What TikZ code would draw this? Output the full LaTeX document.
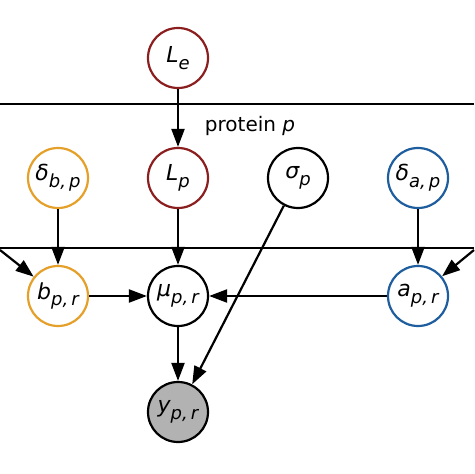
\documentclass[tikz,border=0pt]{standalone}
\usepackage{fontspec}
\setmainfont{DejaVu Sans}
\usetikzlibrary{arrows.meta}

\definecolor{lred}{HTML}{8B1E1E}
\definecolor{borange}{HTML}{E5A02A}
\definecolor{ablue}{HTML}{1F5E9E}

\newcommand{\pgmlab}[2]{{\itshape #1\raisebox{-0.55ex}{\small #2}}}

\begin{document}
\begin{tikzpicture}[x=0.5pt,y=-0.5pt,
	var/.style={circle,draw,line width=1.1pt,minimum size=30pt,inner sep=0pt,fill=white,font=\fontsize{11}{13}\selectfont},
	obs/.style={var,fill=black!30},
	conn/.style={line width=1.1pt,-{Triangle[length=9pt,width=6.5pt]}}]
\useasboundingbox (0,0) rectangle (474,474);
		% plates
		\draw[line width=1.1pt] (0,104) -- (474,104);
		\draw[line width=1.1pt] (0,248) -- (474,248);
		\node at (250,126) {protein \textit{p}};
		% variables
		\node[var,draw=lred] (Le) at (178,58) {\pgmlab{L}{e}};
		\node[var,draw=borange] (db) at (58,178) {\pgmlab{δ}{b,\,p}};
		\node[var,draw=lred] (Lp) at (178,178) {\pgmlab{L}{p}};
		\node[var] (sig) at (298,178) {\pgmlab{σ}{p}};
		\node[var,draw=ablue] (da) at (418,178) {\pgmlab{δ}{a,\,p}};
		\node[var,draw=borange] (b) at (58,296) {\pgmlab{b}{p,\,r}};
		\node[var] (mu) at (178,296) {\pgmlab{μ}{p,\,r}};
		\node[var,draw=ablue] (a) at (418,296) {\pgmlab{a}{p,\,r}};
		\node[obs] (y) at (178,412) {\pgmlab{y}{p,\,r}};
		\coordinate (W) at (0,250);
		\coordinate (E) at (474,250);
		% edges
		\draw[conn] (Le) -- (Lp);
		\draw[conn] (db) -- (b);
		\draw[conn] (Lp) -- (mu);
		\draw[conn] (da) -- (a);
		\draw[conn] (b) -- (mu);
		\draw[conn] (a) -- (mu);
		\draw[conn] (mu) -- (y);
		\draw[conn] (sig) -- (y);
		\draw[conn] (W) -- (b);
		\draw[conn] (E) -- (a);
\end{tikzpicture}
\end{document}
